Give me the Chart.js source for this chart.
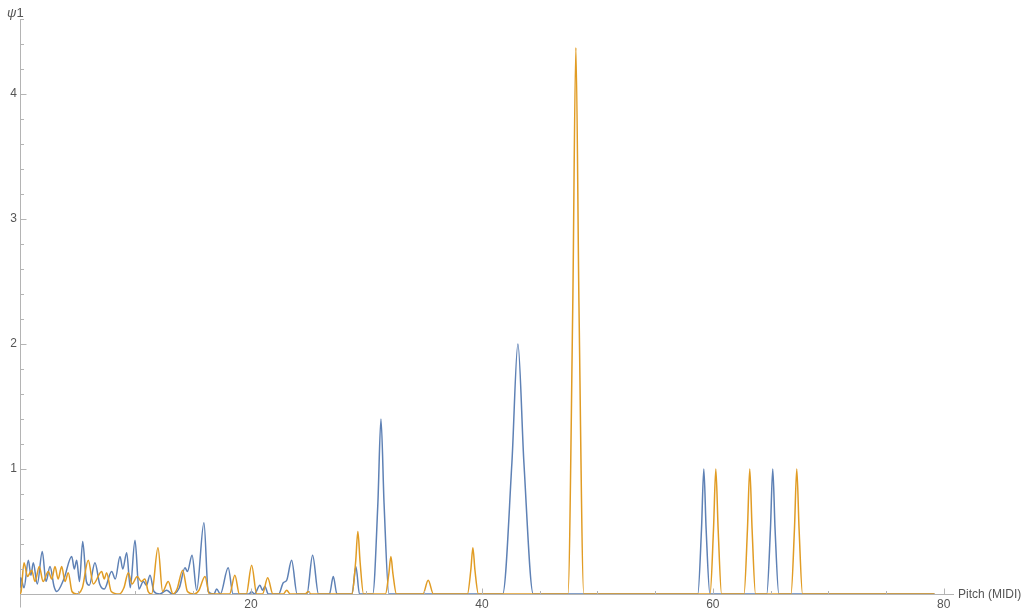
<!DOCTYPE html>
<html>
<head>
<meta charset="utf-8">
<script src="https://cdn.jsdelivr.net/npm/chart.js@4.4.1/dist/chart.umd.min.js"></script>
<style>
  html, body { margin: 0; padding: 0; background: #fff; }
  #wrap { width: 1024px; height: 611px; }
</style>
</head>
<body>
<div id="wrap"><canvas id="js-line-chart" width="1024" height="611"></canvas></div>
<script>
// psi1 against pitch
const bluePitch = [0.0, 0.06, 0.35, 0.72, 0.95, 1.15, 1.5, 1.93, 2.25, 2.6, 2.95, 3.18, 3.8, 4.48, 4.7, 4.91, 5.15, 5.43, 5.75, 6.0,
  6.49, 6.9, 7.3, 7.94, 8.25, 8.66, 8.9, 9.24, 9.55, 9.96, 10.3, 10.68, 10.95, 11.26, 11.6, 12.1, 12.7, 13.2, 13.8, 14.29,
  14.5, 14.9, 15.3, 15.93, 16.3, 16.8, 17.03, 17.35, 18.03, 18.45, 19.85, 20.05, 20.3, 20.78, 21.0, 21.21, 21.5, 22.4, 22.8, 23.1,
  23.52, 24.0, 24.85, 25.34, 25.85, 26.8, 27.13, 27.45, 28.75, 29.09, 29.4, 30.55, 30.99, 31.26, 31.53, 31.95, 41.8, 42.6, 43.12, 43.64,
  44.45, 58.7, 59.02, 59.22, 59.42, 59.75, 64.67, 64.99, 65.19, 65.39, 65.72, 79.2];
const bluePsi = [0.05, 0.13, 0.05, 0.27, 0.15, 0.25, 0.08, 0.34, 0.1, 0.22, 0.06, 0.02, 0.12, 0.30, 0.2, 0.27, 0.1, 0.42, 0.1, 0.07,
  0.25, 0.08, 0.04, 0.18, 0.12, 0.30, 0.2, 0.33, 0.05, 0.43, 0.04, 0.10, 0.07, 0.15, 0.02, 0.0, 0.03, 0.0, 0.05, 0.21,
  0.18, 0.31, 0.03, 0.57, 0.02, 0.0, 0.04, 0.0, 0.21, 0.0, 0.0, 0.02, 0.0, 0.07, 0.03, 0.06, 0.0, 0.0, 0.09, 0.11,
  0.27, 0.0, 0.0, 0.31, 0.0, 0.0, 0.14, 0.0, 0.0, 0.22, 0.0, 0.0, 0.72, 1.40, 0.72, 0.0, 0.0, 1.05, 2.0, 1.05,
  0.0, 0.0, 0.52, 1.0, 0.52, 0.0, 0.0, 0.52, 1.0, 0.52, 0.0, 0.0];

const goldPitch = [0.0, 0.1, 0.35, 0.65, 1.01, 1.3, 1.67, 2.0, 2.45, 2.75, 3.03, 3.3, 3.61, 3.9, 4.18, 4.5, 4.9, 5.4, 5.91, 6.35,
  7.07, 7.3, 7.5, 7.9, 8.6, 9.0, 9.38, 9.7, 10.16, 10.5, 10.82, 11.1, 11.4, 11.95, 12.35, 12.84, 13.25, 13.6, 14.09, 14.5,
  15.1, 15.5, 16.02, 16.4, 18.15, 18.61, 19.0, 19.6, 20.06, 20.5, 21.0, 21.45, 21.9, 22.8, 23.1, 23.4, 24.7, 24.95, 25.2, 28.75,
  29.07, 29.26, 29.45, 29.75, 31.65, 31.94, 32.12, 32.3, 32.6, 34.9, 35.35, 35.8, 38.75, 39.04, 39.22, 39.4, 39.7, 47.45, 47.87, 48.14,
  48.41, 48.83, 59.76, 60.06, 60.26, 60.46, 60.76, 62.7, 63.0, 63.2, 63.4, 63.7, 66.77, 67.07, 67.27, 67.47, 67.77, 79.2];
const goldPsi = [0.0, 0.02, 0.25, 0.14, 0.19, 0.1, 0.22, 0.1, 0.18, 0.12, 0.22, 0.12, 0.22, 0.1, 0.17, 0.02, 0.0, 0.05, 0.27, 0.08,
  0.18, 0.12, 0.17, 0.02, 0.0, 0.05, 0.17, 0.08, 0.14, 0.1, 0.12, 0.02, 0.0, 0.37, 0.02, 0.10, 0.0, 0.04, 0.19, 0.02,
  0.0, 0.03, 0.14, 0.0, 0.0, 0.15, 0.0, 0.0, 0.23, 0.0, 0.0, 0.13, 0.0, 0.0, 0.03, 0.0, 0.0, 0.02, 0.0, 0.0,
  0.26, 0.50, 0.26, 0.0, 0.0, 0.16, 0.30, 0.16, 0.0, 0.0, 0.11, 0.0, 0.0, 0.19, 0.37, 0.19, 0.0, 0.0, 2.3, 4.37,
  2.3, 0.0, 0.0, 0.52, 1.0, 0.52, 0.0, 0.0, 0.52, 1.0, 0.52, 0.0, 0.0, 0.52, 1.0, 0.52, 0.0, 0.0];

const xTickValues = [0, 5, 10, 15, 20, 25, 30, 35, 40, 45, 50, 55, 60, 65, 70, 75, 80];
const xLabelValues = [20, 40, 60, 80];
const yTickValues = [0, 0.2, 0.4, 0.6, 0.8, 1, 1.2, 1.4, 1.6, 1.8, 2, 2.2, 2.4, 2.6, 2.8, 3, 3.2, 3.4, 3.6, 3.8, 4, 4.2, 4.4, 4.6];
const yLabelValues = [1, 2, 3, 4];

const axisColor = "#b4b4b4";
const labelColor = "#555555";
const fontFamily = "'Liberation Sans', Arial, sans-serif";

const toPoints = (xs, ys) => xs.map((x, i) => ({ x: x, y: ys[i] }));

// Mathematica style: ticks point into the plot, axis names at the ends
const axisDecor = {
    id: "axisDecor",
    afterDraw(chart) {
        const ctx = chart.ctx;
        const sx = chart.scales.x;
        const sy = chart.scales.y;
        const x0 = Math.round(sx.getPixelForValue(0)) + 0.5;
        const y0 = Math.round(sy.getPixelForValue(0)) + 0.5;
        ctx.save();
        ctx.strokeStyle = axisColor;
        ctx.lineWidth = 1;
        ctx.beginPath();
        yTickValues.forEach((v) => {
            if (v === 0) return;
            const py = Math.round(sy.getPixelForValue(v)) + 0.5;
            const len = yLabelValues.includes(v) ? 6 : 3.5;
            ctx.moveTo(x0, py);
            ctx.lineTo(x0 + len, py);
        });
        xTickValues.forEach((v) => {
            if (v === 0) return;
            const px = Math.round(sx.getPixelForValue(v)) + 0.5;
            const len = xLabelValues.includes(v) ? 6 : 3.5;
            ctx.moveTo(px, y0);
            ctx.lineTo(px, y0 - len);
        });
        // y axis runs a little past the origin
        ctx.moveTo(x0, y0);
        ctx.lineTo(x0, y0 + 13);
        ctx.stroke();

        ctx.fillStyle = labelColor;
        ctx.textBaseline = "middle";
        ctx.textAlign = "left";
        ctx.font = "12px " + fontFamily;
        ctx.fillText("Pitch (MIDI)", sx.right + 5, y0);

        ctx.textBaseline = "alphabetic";
        ctx.font = "italic 13px " + fontFamily;
        ctx.fillText("ψ", 7, 17);
        const w = ctx.measureText("ψ").width;
        ctx.font = "13px " + fontFamily;
        ctx.fillText("1", 7 + w, 17);
        ctx.restore();
    },
};

const init = () => {
    const canvas = document.getElementById("js-line-chart");
    new Chart(canvas.getContext("2d"), {
        type: "line",
        data: {
            datasets: [
                {
                    label: "gold",
                    data: toPoints(goldPitch, goldPsi),
                    borderColor: "#E19C24",
                    borderWidth: 1.5,
                    pointRadius: 0,
                    fill: false,
                    cubicInterpolationMode: "monotone",
                    order: 0,
                },
                {
                    label: "blue",
                    data: toPoints(bluePitch, bluePsi),
                    borderColor: "#5E81B5",
                    borderWidth: 1.5,
                    pointRadius: 0,
                    fill: false,
                    cubicInterpolationMode: "monotone",
                    order: 1,
                },
            ],
        },
        options: {
            responsive: false,
            animation: false,
            layout: { padding: { left: 0, right: 71, top: 19, bottom: 0 } },
            plugins: { legend: { display: false }, tooltip: { enabled: false } },
            scales: {
                x: {
                    type: "linear",
                    min: 0,
                    max: 80.8,
                    afterFit(s) { s.height = 17; },
                    afterBuildTicks(s) { s.ticks = xTickValues.map((v) => ({ value: v })); },
                    border: { display: true, color: axisColor, width: 1 },
                    grid: { display: false, drawTicks: false },
                    ticks: {
                        autoSkip: false,
                        maxRotation: 0,
                        padding: 3,
                        color: labelColor,
                        font: { family: fontFamily, size: 12 },
                        callback: (v) => (xLabelValues.includes(v) ? String(v) : ""),
                    },
                },
                y: {
                    type: "linear",
                    min: 0,
                    max: 4.6,
                    afterFit(s) { s.width = 20; },
                    afterBuildTicks(s) { s.ticks = yTickValues.map((v) => ({ value: v })); },
                    border: { display: true, color: axisColor, width: 1 },
                    grid: { display: false, drawTicks: false },
                    ticks: {
                        autoSkip: false,
                        padding: 3,
                        color: labelColor,
                        font: { family: fontFamily, size: 12 },
                        callback: (v) => (yLabelValues.includes(v) ? String(v) : ""),
                    },
                },
            },
        },
        plugins: [axisDecor],
    });
};

init();
</script>
</body>
</html>
